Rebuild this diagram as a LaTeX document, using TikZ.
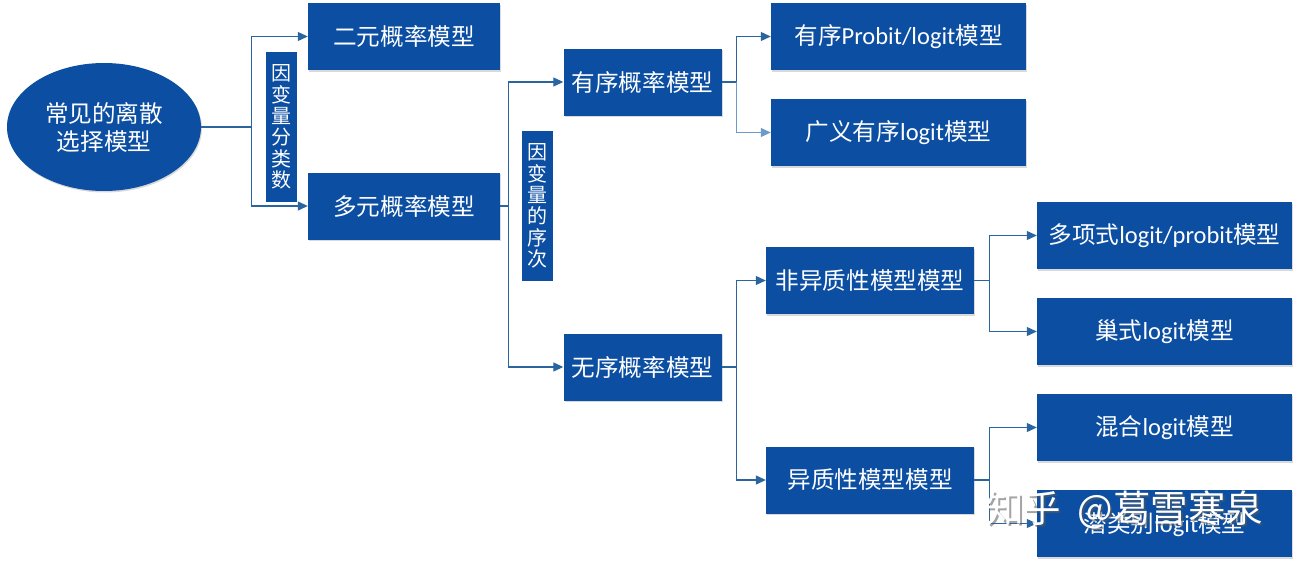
\documentclass[tikz,border=0pt]{standalone}
\usepackage{fontspec}
\setmainfont{Noto Sans CJK SC}
\newfontfamily\latf{Carlito}
\newcommand{\lat}[1]{{\latf\fontsize{24.5}{28}\selectfont #1}}
\usetikzlibrary{arrows.meta,shadows,calc,shapes.geometric}
\definecolor{boxblue}{HTML}{0B4EA2}
\definecolor{linkblue}{HTML}{2A659F}
\definecolor{lightlink}{HTML}{6C9BCB}
\tikzset{
  x=1pt,y=-1pt,
  base/.style={fill=boxblue,draw=none,text=white,font=\fontsize{23.6}{28}\selectfont,inner sep=0pt,align=center,
    drop shadow={shadow xshift=1pt,shadow yshift=-1.5pt,fill=black,opacity=.15}},
  box/.style={base,rectangle,minimum width=#1,minimum height=67pt},
  vbox/.style={fill=boxblue,text=white,rectangle,inner sep=0pt,align=center,minimum width=31pt,minimum height=150pt,
    font=\fontsize{20}{21.4}\selectfont},
  oval/.style={base,ellipse,minimum width=194pt,minimum height=128pt},
  link/.style={draw=linkblue,line width=1.1pt,-{Triangle[length=10pt,width=9pt]}},
  stem/.style={draw=linkblue,line width=1.1pt},
  lightarrow/.style={draw=lightlink,line width=1.1pt,-{Triangle[length=10pt,width=9pt]}},
  mark text/.style={text=white,font=\fontsize{37.5}{42}\selectfont,inner sep=0pt,anchor=west},
  mark shade/.style={text=black!65,opacity=.55,font=\fontsize{37.5}{42}\selectfont,inner sep=0pt,anchor=west},
}
\begin{document}
\begin{tikzpicture}
\useasboundingbox (0,0) rectangle (1300,565);
\node[oval] (root) at (104,127) {常见的离散\\选择模型};
\node[box=192pt] (er) at (404,36.5) {二元概率模型};
\node[box=192pt] (duo) at (404,206) {多元概率模型};
\node[vbox] (v1) at (281,127) {因\\变\\量\\分\\类\\数};
\node[box=158pt] (you) at (642.5,82) {有序概率模型};
\node[box=158pt] (wu) at (642.5,367) {无序概率模型};
\node[vbox] (v2) at (537,206) {因\\变\\量\\的\\序\\次};
\node[box=255pt] (p) at (898.5,36.5) {有序\lat{Probit/logit}模型};
\node[box=255pt] (g) at (898.5,132.5) {广义有序\lat{logit}模型};
\node[box=208pt] (fei) at (870,280.5) {非异质性模型模型};
\node[box=208pt] (yi) at (870,480) {异质性模型模型};
\node[box=255pt] (d) at (1164.5,235.5) {多项式\lat{logit/probit}模型};
\node[box=255pt] (c) at (1164.5,331.5) {巢式\lat{logit}模型};
\node[box=255pt] (h) at (1164.5,427.5) {混合\lat{logit}模型};
\node[box=255pt] (q) at (1164.5,523.5) {};

\coordinate (j1) at ($(root.east)+(50,0)$);
\coordinate (j2) at ($(duo.east)+(8,0)$);
\coordinate (j3) at ($(you.east)+(15,0)$);
\coordinate (j4) at ($(wu.east)+(15,0)$);
\coordinate (j5) at ($(fei.east)+(15,0)$);
\coordinate (j6) at ($(yi.east)+(15,0)$);

\draw[stem] (root.east) -- (j1);
\draw[link] (j1) |- (er.west);
\draw[link] (j1) |- (duo.west);
\draw[stem] (duo.east) -- (j2);
\draw[link] (j2) |- (you.west);
\draw[link] (j2) |- (wu.west);
\draw[stem] (you.east) -- (j3);
\draw[link] (j3) |- (p.west);
\draw[lightarrow] (j3) |- (g.west);
\draw[stem] (wu.east) -- (j4);
\draw[link] (j4) |- (fei.west);
\draw[link] (j4) |- (yi.west);
\draw[stem] (fei.east) -- (j5);
\draw[link] (j5) |- (d.west);
\draw[link] (j5) |- (c.west);
\draw[stem] (yi.east) -- (j6);
\draw[link] (j6) |- (h.west);
\draw[link] (j6) |- (q.west);

\node[text=white,inner sep=0pt,font=\fontsize{23.6}{28}\selectfont] (qt) at (1164.5,524.5) {潜类别\lat{logit}模型};
\node[mark shade] (wms) at (988,511.5) {知乎\hspace{8pt} @葛雪寒泉};
\node[mark text] (wm) at (986,509.5) {知乎\hspace{8pt} @葛雪寒泉};
\end{tikzpicture}
\end{document}
